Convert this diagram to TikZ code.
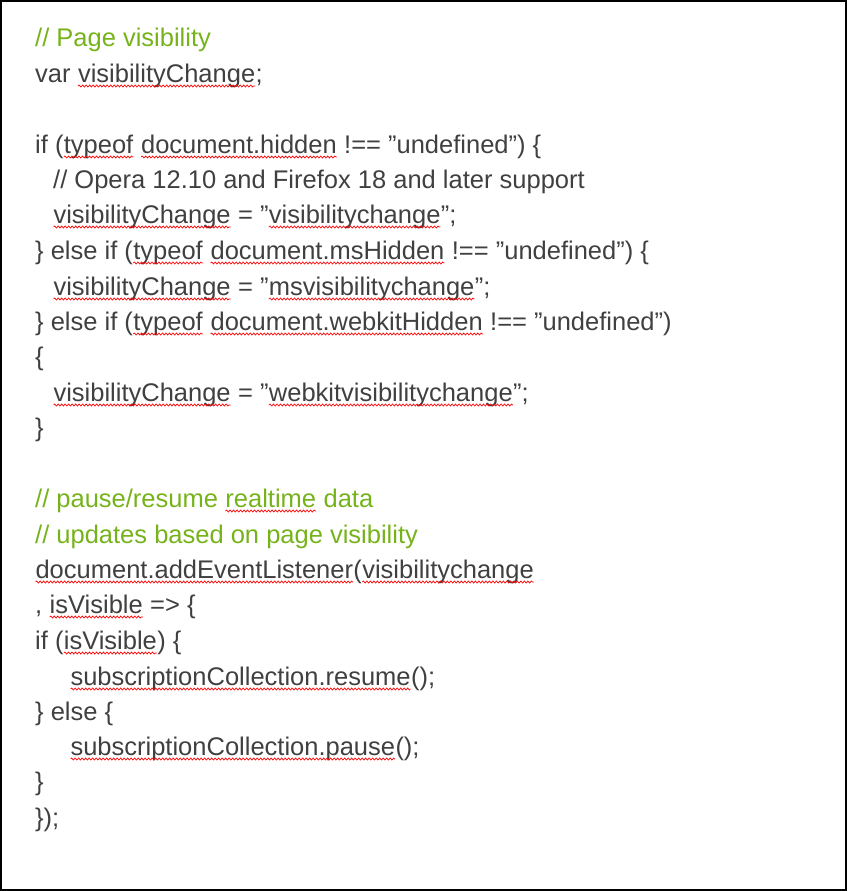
\documentclass[tikz,border=0pt]{standalone}
\usepackage{fontspec}
\setmainfont{Liberation Sans}
\usetikzlibrary{decorations.pathmorphing}
\definecolor{codegray}{HTML}{404040}
\definecolor{codegreen}{HTML}{76B31B}
\newcommand\rw[1]{\tikz[baseline=(w.base)]{\node[inner sep=0pt,outer sep=0pt,text=codegray] (w) {#1};\draw[red,line width=0.7pt,decorate,decoration={snake,amplitude=1pt,segment length=3.5pt}] ([yshift=-4pt]w.base west) -- ([yshift=-4pt]w.base east);}}
\begin{document}
\begin{tikzpicture}[x=1pt,y=-1pt,
  ln/.style={anchor=base west,inner sep=0pt,font=\fontsize{25.5}{30}\selectfont,text=codegray},
  cmt/.style={ln,text=codegreen}]
\useasboundingbox (0,0) rectangle (847,891);
\draw[line width=2pt] (1,1) rectangle (846,890);
\node[cmt] (l1) at (35,47) {// Page visibility};
\node[ln] (l2) at (35,82) {var \rw{visibilityChange};};
\node[ln] (l3) at (35,153) {if (\rw{typeof} \rw{document.hidden} !== "undefined") \{};
\node[ln] (l4) at (53,188) {// Opera 12.10 and Firefox 18 and later support};
\node[ln] (l5) at (53,223) {\rw{visibilityChange} = "\rw{visibilitychange}";};
\node[ln] (l6) at (35,259) {\} else if (\rw{typeof} \rw{document.msHidden} !== "undefined") \{};
\node[ln] (l7) at (53,295) {\rw{visibilityChange} = "\rw{msvisibilitychange}";};
\node[ln] (l8) at (35,330) {\} else if (\rw{typeof} \rw{document.webkitHidden} !== "undefined")};
\node[ln] (l9) at (35,365) {\{};
\node[ln] (l10) at (53,401) {\rw{visibilityChange} = "\rw{webkitvisibilitychange}";};
\node[ln] (l11) at (35,436) {\}};
\node[cmt] (l12) at (35,507) {// pause/resume \rw{\textcolor{codegreen}{realtime}} data};
\node[cmt] (l13) at (35,543) {// updates based on page visibility};
\node[ln] (l14) at (35,578) {\rw{document.addEventListener}(\rw{visibilitychange}};
\node[ln] (l15) at (35,613) {, \rw{isVisible} => \{};
\node[ln] (l16) at (35,649) {if (\rw{isVisible}) \{};
\node[ln] (l17) at (70,685) {\rw{subscriptionCollection.resume}();};
\node[ln] (l18) at (35,720) {\} else \{};
\node[ln] (l19) at (70,755) {\rw{subscriptionCollection.pause}();};
\node[ln] (l20) at (35,790) {\}};
\node[ln] (l21) at (35,826) {\});};
\end{tikzpicture}
\end{document}
